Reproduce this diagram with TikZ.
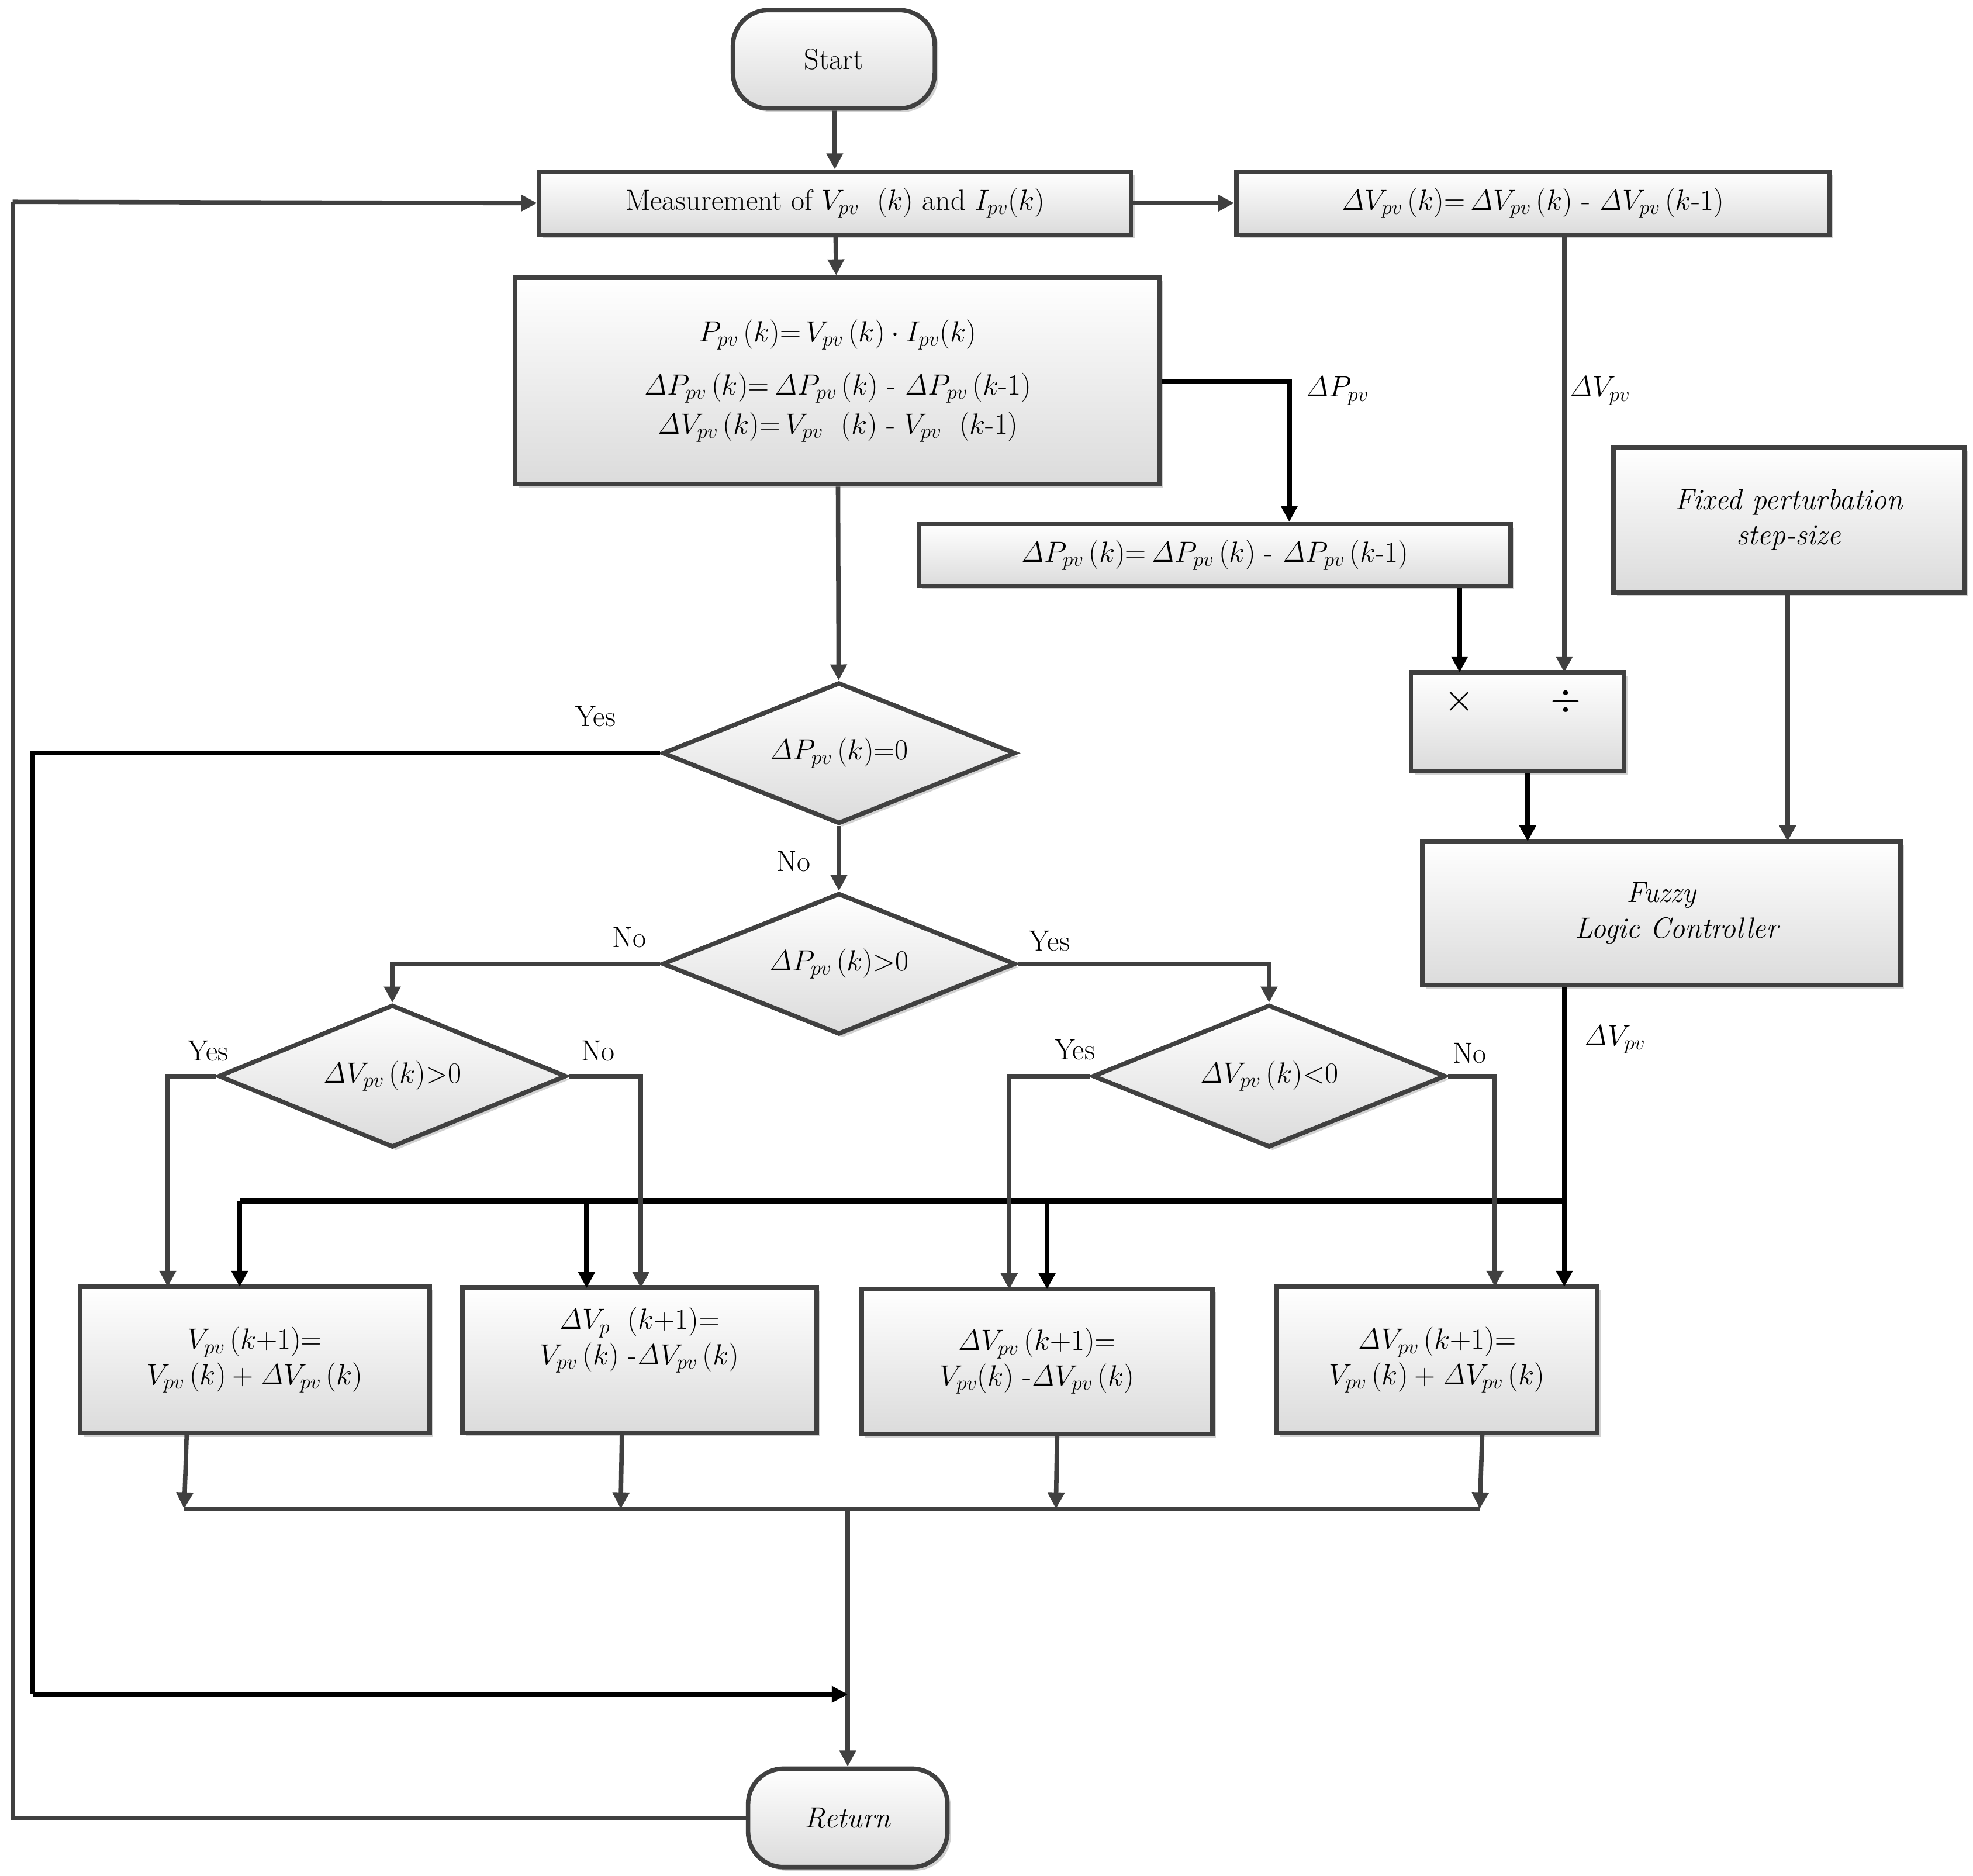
\RequirePackage{fix-cm}
\documentclass[tikz,border=0pt]{standalone}
\usepackage{amsmath}
\usetikzlibrary{shapes.geometric,arrows.meta,shadows}
\begin{document}
\begin{tikzpicture}[x=0.05cm,y=-0.05cm,
  every node/.style={font=\fontsize{33}{40}\selectfont},
  box/.style={draw=black!75,line width=5pt,top color=white,bottom color=black!14,drop shadow={shadow xshift=4pt,shadow yshift=-4pt,fill=black!35},inner sep=0pt,align=center},
  dia/.style={box,diamond,aspect=2.5},
  term/.style={box,rounded corners=40pt},
  ln/.style={draw=black!75,line width=5pt},
  bk/.style={draw=black,line width=5.5pt},
  ar/.style={-{Triangle[length=18pt,width=18pt]}},
  lab/.style={font=\fontsize{33}{40}\selectfont}]
\useasboundingbox (0,0) rectangle (1564,1487);
% nodes
\node[term,minimum width=160*0.05cm,minimum height=78*0.05cm] (start) at (661,47) {Start};
\node[box,minimum width=469*0.05cm,minimum height=50*0.05cm] (meas) at (662,161) {Measurement of $V_{pv}\ \ (k)$ and $I_{pv}(k)$};
\node[box,minimum width=470*0.05cm,minimum height=50*0.05cm] (dv) at (1215,161) {$\mathit{\Delta}V_{pv}\,(k){=}\,\mathit{\Delta}V_{pv}\,(k)$ - $\mathit{\Delta}V_{pv}\,(k\text{-}1)$};
\node[box,minimum width=511*0.05cm,minimum height=164*0.05cm] (pb) at (664,302) {$P_{pv}\,(k){=}\,V_{pv}\,(k)\cdot I_{pv}(k)$\\[20pt] $\mathit{\Delta}P_{pv}\,(k){=}\,\mathit{\Delta}P_{pv}\,(k)$ - $\mathit{\Delta}P_{pv}\,(k\text{-}1)$\\[4pt] $\mathit{\Delta}V_{pv}\,(k){=}\,V_{pv}\ \ (k)$ - $V_{pv}\ \ (k\text{-}1)$};
\node[box,minimum width=469*0.05cm,minimum height=49*0.05cm] (dp) at (963,440) {$\mathit{\Delta}P_{pv}\,(k){=}\,\mathit{\Delta}P_{pv}\,(k)$ - $\mathit{\Delta}P_{pv}\,(k\text{-}1)$};
\node[box,minimum width=278*0.05cm,minimum height=115*0.05cm] (fix) at (1418,412) {\itshape Fixed perturbation\\ \itshape step-size};
\node[box,minimum width=169*0.05cm,minimum height=78*0.05cm] (md) at (1203,572) {};
\node[font=\fontsize{44}{44}\selectfont] (mul) at (1157,556) {$\times$};
\node[font=\fontsize{44}{44}\selectfont] (div) at (1241,556) {$\div$};
\node[box,minimum width=379*0.05cm,minimum height=114*0.05cm] (fz) at (1317,724) {\itshape Fuzzy\\ \itshape\ \ \ Logic Controller};
\node[dia,minimum width=280*0.05cm,minimum height=112*0.05cm] (d1) at (665,597) {$\mathit{\Delta}P_{pv}\,(k){=}0$};
\node[dia,minimum width=280*0.05cm,minimum height=112*0.05cm] (d2) at (665,764) {$\mathit{\Delta}P_{pv}\,(k){>}0$};
\node[dia,minimum width=276*0.05cm,minimum height=113*0.05cm] (d3) at (311,853) {$\mathit{\Delta}V_{pv}\,(k){>}0$};
\node[dia,minimum width=280*0.05cm,minimum height=113*0.05cm] (d4) at (1006,853) {$\mathit{\Delta}V_{pv}\,(k){<}0$};
\node[box,minimum width=277*0.05cm,minimum height=116*0.05cm] (ba) at (202,1078) {$V_{pv}\,(k{+}1){=}$\\ $V_{pv}\,(k)+\mathit{\Delta}V_{pv}\,(k)$};
\node[box,minimum width=281*0.05cm,minimum height=115*0.05cm] (bb) at (507,1078) {$\mathit{\Delta}V_{p}\ \ (k{+}1){=}$\\ $V_{pv}\,(k)$ -$\mathit{\Delta}V_{pv}\,(k)$\\[14pt]};
\node[box,minimum width=278*0.05cm,minimum height=115*0.05cm] (bc) at (822,1079) {$\mathit{\Delta}V_{pv}\,(k{+}1){=}$\\ $V_{pv}(k)$ -$\mathit{\Delta}V_{pv}\,(k)$};
\node[box,minimum width=254*0.05cm,minimum height=116*0.05cm] (bd) at (1139,1078) {$\mathit{\Delta}V_{pv}\,(k{+}1){=}$\\ $V_{pv}\,(k)+\mathit{\Delta}V_{pv}\,(k)$};
\node[term,minimum width=158*0.05cm,minimum height=78*0.05cm] (ret) at (672,1441) {\itshape Return};
% coordinates
\coordinate (m1) at (146,1196); \coordinate (m2) at (1173,1196); \coordinate (mc) at (672,1196);
\coordinate (y1) at (26,597); \coordinate (y2) at (26,1343); \coordinate (y3) at (672,1343);
\coordinate (r1) at (10,1441); \coordinate (r2) at (10,160);
\coordinate (bus) at (1240,952); \coordinate (busl) at (190,952);
% connectors
\draw[ln,ar] (start) -- (meas);
\draw[ln,ar] (meas) -- (pb);
\draw[ln,ar] (pb) -- (d1);
\draw[ln,ar] (d1) -- (d2);
\draw[ln,ar] (meas.east) -- (dv.west);
\draw[ln,ar] (dv.south -| 1240,0) -- (1240,533);
\draw[bk,ar] (pb.east |- 0,302) -| (dp.north -| 1022,0);
\draw[bk,ar] (dp.south -| 1157,0) -- (1157,533);
\draw[bk,ar] (md.south -| 1211,0) -- (1211,667);
\draw[ln,ar] (fix.south -| 1417,0) -- (1417,667);
\draw[bk,ar] (fz.south -| 1240,0) -- (1240,1020);
\draw[bk] (bus) -- (busl);
\draw[bk,ar] (busl) -- (190,1020);
\draw[bk,ar] (465,952) -- (465,1021);
\draw[bk,ar] (830,952) -- (830,1022);
\draw[ln,ar] (d2.west) -| (d3.north);
\draw[ln,ar] (d2.east) -| (d4.north);
\draw[ln,ar] (d3.west) -| (133,1020);
\draw[ln,ar] (d3.east) -| (508,1021);
\draw[ln,ar] (d4.west) -| (800,1022);
\draw[ln,ar] (d4.east) -| (1185,1020);
\draw[ln,ar] (148,1136) -- (146,1196);
\draw[ln,ar] (493,1136) -- (492,1196);
\draw[ln,ar] (838,1137) -- (837,1196);
\draw[ln,ar] (1175,1136) -- (1173,1196);
\draw[ln] (m1) -- (m2);
\draw[ln,ar] (mc) -- (ret);
\draw[bk] (d1.west) -- (y1) -- (y2);
\draw[bk,ar] (y2) -- (y3);
\draw[ln] (ret.west) -- (r1) -- (r2);
\draw[ln,ar] (r2) -- (meas.west);
% labels
\node[lab] (l1) at (472,568) {Yes};
\node[lab] (l2) at (629,683) {No};
\node[lab] (l3) at (499,743) {No};
\node[lab] (l4) at (832,746) {Yes};
\node[lab] (l5) at (165,833) {Yes};
\node[lab] (l6) at (474,833) {No};
\node[lab] (l7) at (852,832) {Yes};
\node[lab] (l8) at (1165,835) {No};
\node[lab] (l9) at (1060,310) {$\mathit{\Delta}P_{pv}$};
\node[lab] (l10) at (1268,310) {$\mathit{\Delta}V_{pv}$};
\node[lab] (l11) at (1280,824) {$\mathit{\Delta}V_{pv}$};
\end{tikzpicture}
\end{document}
